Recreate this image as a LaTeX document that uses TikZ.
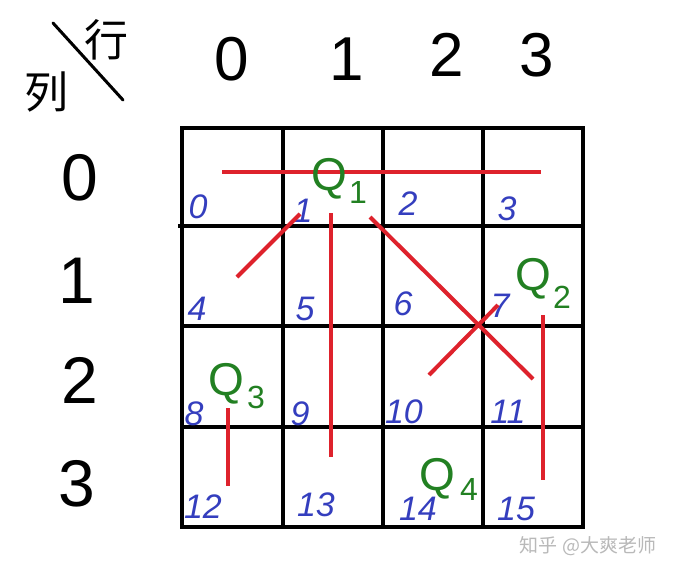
\documentclass[tikz,border=0pt]{standalone}
\usepackage{fontspec}
\setmainfont{Liberation Sans}
\newfontfamily\cjk{Noto Sans CJK SC}
\definecolor{redl}{RGB}{222,34,44}
\definecolor{greenq}{RGB}{34,128,34}
\definecolor{bluen}{RGB}{52,62,190}
\definecolor{wm}{RGB}{185,185,185}
\tikzset{
  gridline/.style={line width=3.3pt,black},
  attack/.style={line width=4pt,redl},
  head/.style={anchor=base,inner sep=0pt,font=\fontsize{62}{62}\selectfont},
  lefthead/.style={anchor=base,inner sep=0pt,font=\fontsize{66}{66}\selectfont},
  idx/.style={anchor=base,inner sep=0pt,text=bluen,font=\fontsize{34}{34}\selectfont\itshape},
  queen/.style={anchor=base,inner sep=0pt,text=greenq,font=\fontsize{46}{46}\selectfont},
  qsub/.style={anchor=base,inner sep=0pt,text=greenq,font=\fontsize{32}{32}\selectfont},
  cjklabel/.style={inner sep=0pt,font=\cjk\fontsize{44}{44}\selectfont}
}
\begin{document}
\begin{tikzpicture}[x=1pt,y=-1pt]
\useasboundingbox (0,0) rectangle (680,573);
\fill[white] (0,0) rectangle (680,573);
% corner header
\coordinate (s1) at (53,23);
\coordinate (s2) at (123,100);
\draw[line width=3pt,line cap=round] (s1) -- (s2);
\node[cjklabel] (hang) at (106,40) {行};
\node[cjklabel] (lie) at (46,92) {列};
% column headers
\node[head] (c0) at (232,80) {0};
\node[head] (c1) at (347,80) {1};
\node[head] (c2) at (447,76) {2};
\node[head] (c3) at (537,76) {3};
% row headers
\node[lefthead] (r0) at (80,200) {0};
\node[lefthead] (r1) at (77,303) {1};
\node[lefthead] (r2) at (80,403) {2};
\node[lefthead] (r3) at (77,506) {3};
% grid
\draw[gridline] (182,128) rectangle (583,527);
\foreach \x in {283,383,483} \draw[gridline] (\x,128) -- (\x,527);
\draw[gridline] (178,226) -- (583,226);
\foreach \y in {326,427} \draw[gridline] (182,\y) -- (583,\y);
% cell indices
\node[idx] (n0) at (198,218) {0};
\node[idx] (n1) at (303,222) {1};
\node[idx] (n2) at (408,215) {2};
\node[idx] (n3) at (507,220) {3};
\node[idx] (n4) at (197,320) {4};
\node[idx] (n5) at (305,320) {5};
\node[idx] (n6) at (403,315) {6};
\node[idx] (n7) at (500,317) {7};
\node[idx] (n8) at (194,425) {8};
\node[idx] (n9) at (300,425) {9};
\node[idx] (n10) at (404,423) {10};
\node[idx] (n11) at (508,423) {11};
\node[idx] (n12) at (203,518) {12};
\node[idx] (n13) at (316,516) {13};
\node[idx] (n14) at (418,520) {14};
\node[idx] (n15) at (516,520) {15};
% attack lines
\coordinate (a1) at (222,172); \coordinate (a2) at (541,172);
\coordinate (b1) at (300,214); \coordinate (b2) at (237,277);
\coordinate (v1) at (331,213); \coordinate (v2) at (331,457);
\coordinate (d1) at (370,217); \coordinate (d2) at (533,379);
\coordinate (e1) at (498,305); \coordinate (e2) at (429,375);
\coordinate (f1) at (543,315); \coordinate (f2) at (543,480);
\coordinate (g1) at (228,408); \coordinate (g2) at (228,486);
\draw[attack] (a1) -- (a2);
\draw[attack] (b1) -- (b2);
\draw[attack] (v1) -- (v2);
\draw[attack] (d1) -- (d2);
\draw[attack] (e1) -- (e2);
\draw[attack] (f1) -- (f2);
\draw[attack] (g1) -- (g2);
% queens
\node[queen] (q1) at (329,190) {Q};
\node[qsub] (q1s) at (358,203) {1};
\node[queen] (q2) at (533,290) {Q};
\node[qsub] (q2s) at (562,308) {2};
\node[queen] (q3) at (226,395) {Q};
\node[qsub] (q3s) at (256,408) {3};
\node[queen] (q4) at (437,490) {Q};
\node[qsub] (q4s) at (469,500) {4};
% watermark
\node[inner sep=0pt,text=wm,font=\cjk\fontsize{19}{19}\selectfont] (wmk) at (588,546) {知乎 @大爽老师};
\end{tikzpicture}
\end{document}
